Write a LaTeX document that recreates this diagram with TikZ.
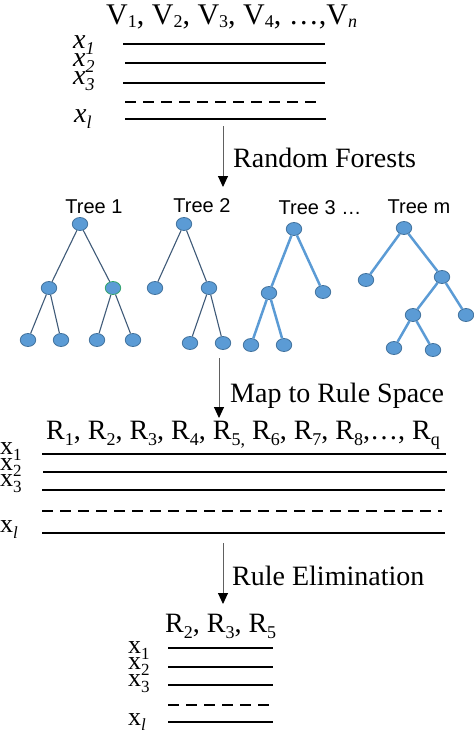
\documentclass[tikz,border=0pt]{standalone}
\usepackage{fontspec}
\setmainfont{Liberation Serif}
\newfontfamily\treefont{Liberation Sans}
\usetikzlibrary{arrows.meta,shapes.geometric}
\newcommand\sbs[2][5pt]{\raisebox{-#1}{\fontsize{18}{18}\selectfont #2}}
\newcommand\ssbs[2][5pt]{\raisebox{-#1}{\fontsize{17}{17}\selectfont #2}}
\definecolor{nodefill}{HTML}{5B9BD5}
\definecolor{nodeedge}{HTML}{41719C}
\definecolor{thinc}{HTML}{3F5A78}
\definecolor{greenedge}{HTML}{2FA36B}
\begin{document}
\begin{tikzpicture}[x=1pt,y=-1pt,
  big/.style={font=\fontsize{28}{30}\selectfont, inner sep=0pt, anchor=base west},
  title/.style={font=\fontsize{30}{32}\selectfont, inner sep=0pt, anchor=base west},
  lab/.style={font=\fontsize{26}{28}\selectfont, inner sep=0pt, anchor=base west},
  rowline/.style={line width=2.2pt},
  dashrow/.style={line width=2.2pt, dash pattern=on 11pt off 7pt},
  flow/.style={draw=gray!75!black, line width=0.9pt, -{Triangle[length=11pt,width=10pt,color=black]}},
  tn/.style={ellipse, draw=nodeedge, fill=nodefill, line width=0.8pt, minimum width=15.5pt, minimum height=13pt, inner sep=0pt},
  thinedge/.style={draw=thinc, line width=1.1pt},
  thickedge/.style={draw=nodefill, line width=2.5pt},
  treelabel/.style={font=\treefont\fontsize{20}{22}\selectfont, anchor=base, inner sep=0pt}]
\useasboundingbox (0,0) rectangle (474,734);

% ---------- top block ----------
\node[title] (vtitle) at (106,24) {V\sbs[3pt]{1}, V\sbs[3pt]{2}, V\sbs[3pt]{3}, V\sbs[3pt]{4}, \dots,V\sbs[3pt]{\textit{n}}};
\draw[rowline] (123,44) -- (325,44);
\draw[rowline] (125,63) -- (326,63);
\draw[rowline] (123,83) -- (325,83);
\draw[dashrow] (125,102) -- (323,102);
\draw[rowline] (125,119) -- (326,119);
\node[big] (tx1) at (73,48) {\textit{x}\sbs[6pt]{\textit{1}}};
\node[big] (tx2) at (73,66) {\textit{x}\sbs[6pt]{\textit{2}}};
\node[big] (tx3) at (73,84) {\textit{x}\sbs[6pt]{\textit{3}}};
\node[big] (txl) at (74,122) {\textit{x}\sbs[6pt]{\textit{l}}};

\coordinate (a1s) at (223,126);
\coordinate (a1e) at (223,187);
\draw[flow] (a1s) -- (a1e);
\node[big] (rf) at (233,167) {Random Forests};

% ---------- trees ----------
\node[treelabel] (t1) at (94,213) {Tree 1};
\node[treelabel] (t2) at (202,212) {Tree 2};
\node[treelabel] (t3) at (320,214) {Tree 3 \dots};
\node[treelabel] (tm) at (419,213) {Tree m};

% tree 1
\node[tn] (r1) at (80,224) {};
\node[tn] (l1) at (49,288) {};
\node[tn, draw=greenedge] (m1) at (113,288) {};
\node[tn] (a1) at (28,340) {};
\node[tn] (b1) at (61,340) {};
\node[tn] (c1) at (97,340) {};
\node[tn] (d1) at (133,340) {};
\draw[thinedge] (r1) -- (l1);
\draw[thinedge] (r1) -- (m1);
\draw[thinedge] (l1) -- (a1);
\draw[thinedge] (l1) -- (b1);
\draw[thinedge] (m1) -- (c1);
\draw[thinedge] (m1) -- (d1);

% tree 2
\node[tn] (r2) at (184,224) {};
\node[tn] (l2) at (155,288) {};
\node[tn] (m2) at (209,288) {};
\node[tn] (e2) at (190,343) {};
\node[tn] (f2) at (223,343) {};
\draw[thinedge] (r2) -- (l2);
\draw[thinedge] (r2) -- (m2);
\draw[thinedge] (m2) -- (e2);
\draw[thinedge] (m2) -- (f2);

% tree 3
\node[tn] (r3) at (294,229) {};
\node[tn] (l3) at (269,293) {};
\node[tn] (m3) at (323,292) {};
\node[tn] (g3) at (251,345) {};
\node[tn] (h3) at (284,345) {};
\draw[thickedge] (r3) -- (l3);
\draw[thickedge] (r3) -- (m3);
\draw[thickedge] (l3) -- (g3);
\draw[thickedge] (l3) -- (h3);

% tree m
\node[tn] (r4) at (404,228) {};
\node[tn] (l4) at (366,280) {};
\node[tn] (m4) at (442,277) {};
\node[tn] (n4) at (413,315) {};
\node[tn] (o4) at (466,315) {};
\node[tn] (p4) at (394,348) {};
\node[tn] (q4) at (433,350) {};
\draw[thickedge] (r4) -- (l4);
\draw[thickedge] (r4) -- (m4);
\draw[thickedge] (m4) -- (n4);
\draw[thickedge] (m4) -- (o4);
\draw[thickedge] (n4) -- (p4);
\draw[thickedge] (n4) -- (q4);

\coordinate (a2s) at (219,358);
\coordinate (a2e) at (219,418);
\draw[flow] (a2s) -- (a2e);
\node[big] (mrs) at (230,402) {Map to Rule Space};

% ---------- middle block ----------
\node[big] (rlist) at (46,439) {R\sbs[6pt]{1}, R\sbs[6pt]{2}, R\sbs[6pt]{3}, R\sbs[6pt]{4}, R\sbs[6pt]{5,} R\sbs[6pt]{6}, R\sbs[6pt]{7}, R\sbs[6pt]{8},\dots, R\sbs[6pt]{q}};
\draw[rowline] (42,454) -- (446,454);
\draw[rowline] (43,472) -- (447,472);
\draw[rowline] (42,490) -- (445,490);
\draw[dashrow] (42,511) -- (442,511);
\draw[rowline] (42,533) -- (445,533);
\node[lab] (mx1) at (0,454) {x\ssbs[6pt]{1}};
\node[lab] (mx2) at (0,470) {x\ssbs[6pt]{2}};
\node[lab] (mx3) at (0,486) {x\ssbs[6pt]{3}};
\node[lab] (mxl) at (0,532) {x\ssbs[6pt]{\textit{l}}};

\coordinate (a3s) at (223,543);
\coordinate (a3e) at (223,604);
\draw[flow] (a3s) -- (a3e);
\node[big] (re) at (232,585) {Rule Elimination};

% ---------- bottom block ----------
\node[big] (rsel) at (165,632) {R\sbs[6pt]{2}, R\sbs[6pt]{3}, R\sbs[6pt]{5}};
\draw[rowline] (168,648) -- (273,648);
\draw[rowline] (168,667) -- (273,667);
\draw[rowline] (168,685) -- (273,685);
\draw[dashrow] (168,705) -- (273,705);
\draw[rowline] (168,722) -- (273,722);
\node[lab] (bx1) at (128,653) {x\ssbs[6pt]{1}};
\node[lab] (bx2) at (128,669) {x\ssbs[6pt]{2}};
\node[lab] (bx3) at (128,686) {x\ssbs[6pt]{3}};
\node[lab] (bxl) at (128,725) {x\ssbs[5pt]{\textit{l}}};
\end{tikzpicture}
\end{document}
